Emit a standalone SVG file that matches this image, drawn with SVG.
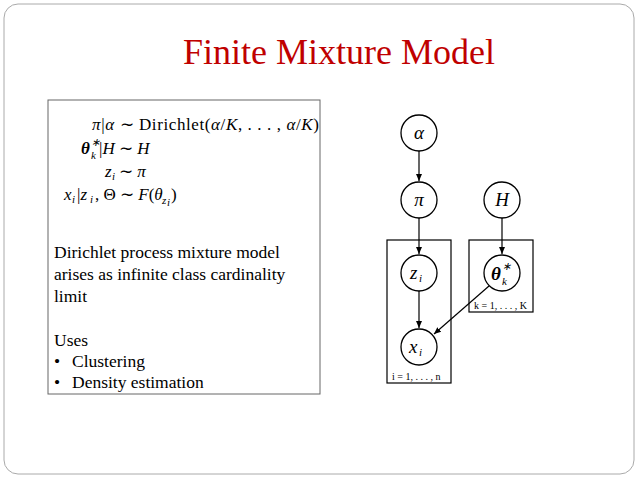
<svg xmlns="http://www.w3.org/2000/svg" width="638" height="478" viewBox="0 0 638 478">
<style>
.m{font-family:"Liberation Serif",serif;font-size:17px;fill:#000}
.mi{font-family:"Liberation Serif",serif;font-style:italic;font-size:19px;fill:#000}
.t{font-family:"Liberation Serif",serif;font-size:17.5px;fill:#000}
.n{fill:#fff;stroke:#000;stroke-width:1.3}
.p{fill:none;stroke:#000;stroke-width:1.2}
.s{font-family:"Liberation Serif",serif;font-size:10px;fill:#000}
.sub{font-family:"Liberation Serif",serif;font-style:italic;font-size:11px;fill:#000}
</style>
<defs><marker id="a" markerWidth="8" markerHeight="8" refX="7" refY="4" orient="auto" markerUnits="userSpaceOnUse"><path d="M0,1 L7,4 L0,7z" fill="#000"/></marker></defs>
<rect x="4" y="4" width="630" height="470" rx="14" fill="#fff" stroke="#aaa" stroke-width="1"/>
<text x="339" y="64" text-anchor="middle" font-family="Liberation Serif,serif" font-size="36" fill="#c00000">Finite Mixture Model</text>
<rect x="48" y="100" width="272" height="294" fill="#fff" stroke="#666"/>
<g class="m">
<text x="92" y="130" letter-spacing="0.6"><tspan font-style="italic">π</tspan>|<tspan font-style="italic">α</tspan> ∼ Dirichlet(<tspan font-style="italic">α</tspan>/<tspan font-style="italic">K</tspan>, . . . , <tspan font-style="italic">α</tspan>/<tspan font-style="italic">K</tspan>)</text>
<text x="81" y="154" font-style="italic" font-weight="bold">θ</text>
<text x="91" y="146" class="sub" font-size="9">∗</text>
<text x="91" y="159" class="sub" font-size="9">k</text>
<text x="99" y="154">|<tspan font-style="italic">H</tspan> ∼ <tspan font-style="italic">H</tspan></text>
<text x="105" y="177" font-style="italic">z</text>
<text x="112" y="180" class="sub">i</text>
<text x="119" y="177">∼ <tspan font-style="italic">π</tspan></text>
<text x="64" y="200" font-style="italic">x</text>
<text x="72" y="203" class="sub">i</text>
<text x="77" y="200">|<tspan font-style="italic">z</tspan></text>
<text x="90" y="203" class="sub">i</text>
<text x="95" y="200">, Θ ∼ <tspan font-style="italic">F</tspan>(<tspan font-style="italic">θ</tspan></text>
<text x="162" y="204" class="sub" font-size="9">z</text>
<text x="167" y="206" class="sub" font-size="7">i</text>
<text x="171" y="200">)</text>
</g>
<text class="t" x="54" y="258">Dirichlet process mixture model</text>
<text class="t" x="54" y="280">arises as infinite class cardinality</text>
<text class="t" x="54" y="302">limit</text>
<text class="t" x="54" y="346">Uses</text>
<text class="t" x="54" y="367">•</text><text class="t" x="72" y="367">Clustering</text>
<text class="t" x="54" y="388">•</text><text class="t" x="72" y="388">Density estimation</text>
<g id="plates">
<rect class="p" x="387" y="240" width="64" height="143"/>
<rect class="p" x="469" y="240" width="64" height="72"/>
<text class="s" x="392" y="380">i = 1, . . . , n</text>
<text class="s" x="474" y="309">k = 1, . . . , K</text>
</g>
<g id="connectors" stroke="#000" stroke-width="1.2" marker-end="url(#a)">
<line x1="419" y1="151" x2="419" y2="181"/>
<line x1="419" y1="218" x2="419" y2="254"/>
<line x1="502" y1="218" x2="502" y2="254"/>
<line x1="419" y1="291" x2="419" y2="328"/>
<line x1="489" y1="286" x2="434" y2="334"/>
</g>
<g id="alpha"><circle class="n" cx="419" cy="133" r="18"/><text class="mi" x="419" y="139" text-anchor="middle">α</text></g>
<g id="pi"><circle class="n" cx="419" cy="200" r="18"/><text class="mi" x="419" y="206" text-anchor="middle">π</text></g>
<g id="H"><circle class="n" cx="502" cy="200" r="18"/><text class="mi" x="502" y="206" text-anchor="middle">H</text></g>
<g id="z"><circle class="n" cx="419" cy="273" r="18"/><text class="mi" x="410" y="279">z</text><text class="sub" x="419" y="282">i</text></g>
<g id="theta"><circle class="n" cx="502" cy="273" r="18"/><text class="mi" x="491" y="280" font-weight="bold">θ</text><text class="sub" x="502" y="270">∗</text><text class="sub" x="502" y="285">k</text></g>
<g id="x"><circle class="n" cx="419" cy="347" r="18"/><text class="mi" x="409" y="353">x</text><text class="sub" x="419" y="356">i</text></g>
</svg>
